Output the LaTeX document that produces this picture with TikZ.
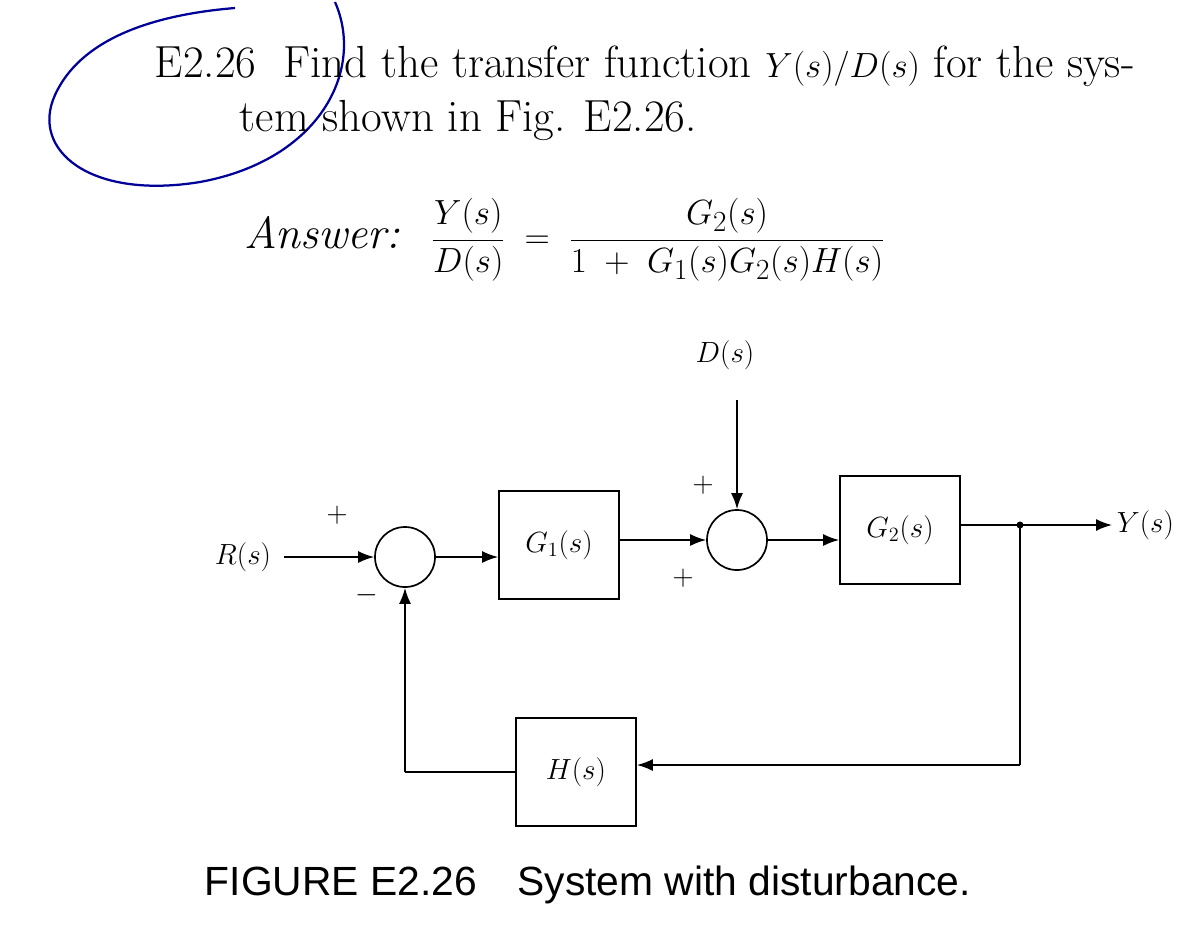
\documentclass[tikz,border=0pt]{standalone}
\usepackage{fontspec}
\setsansfont{Liberation Sans}
\usetikzlibrary{arrows.meta}
\begin{document}
\begin{tikzpicture}[x=0.025cm,y=-0.025cm,
  blk/.style={draw,line width=1.2pt,minimum width=3cm,minimum height=2.7cm,font=\fontsize{22}{26}\selectfont},
  sumc/.style={draw,circle,line width=1.2pt,minimum size=1.5cm,inner sep=0pt},
  sig/.style={line width=1.2pt,-{Latex[length=4mm,width=3mm]}},
  wire/.style={line width=1.2pt},
  lbl/.style={font=\fontsize{22}{26}\selectfont},
  big/.style={font=\fontsize{32}{38}\selectfont,anchor=west}]
\useasboundingbox (0,0) rectangle (1204,950);
\fill[white] (0,0) rectangle (1204,950);
% blue hand-drawn circle
\draw[blue!60!black,line width=1.6pt] (335,2) .. controls (365,70) and (320,160) .. (200,182) .. controls (90,200) and (30,150) .. (55,95) .. controls (80,40) and (150,15) .. (235,8);
\node[big] (t1) at (150,66) {E2.26 \ Find the transfer function $Y(s)/D(s)$ for the sys-};
\node[big] (t2) at (235,120) {tem shown in Fig. E2.26.};
\node[big] (ans) at (240,240) {\textit{Answer:} \ $\displaystyle \frac{Y(s)}{D(s)} \;=\; \frac{G_2(s)}{1\;+\;G_1(s)G_2(s)H(s)}$};
% diagram
\node[sumc] (s1) at (405,557) {};
\node[blk] (g1) at (559,545) {$G_1(s)$};
\node[sumc] (s2) at (737,540) {};
\node[blk] (g2) at (900,530) {$G_2(s)$};
\node[blk] (h) at (576,772) {$H(s)$};
\node[lbl] (r) at (243,557) {$R(s)$};
\node[lbl] (d) at (725,355) {$D(s)$};
\node[lbl,anchor=west] (y) at (1112,525) {$Y(s)$};
\coordinate (dtop) at (737,400);
\coordinate (br) at (1020,525);
\coordinate (bb) at (1020,765);
\coordinate (hl) at (405,772);
\draw[sig] (r.east) ++(8,0) -- (s1.west);
\draw[sig] (s1.east) -- (g1.west |- s1.east);
\draw[sig] (g1.east |- s2.west) -- (s2.west);
\draw[sig] (dtop) -- (s2.north);
\draw[sig] (s2.east) -- (g2.west |- s2.east);
\draw[sig] (g2.east |- br) -- (y.west);
\fill (br) circle (2.5pt);
\draw[wire] (br) -- (bb);
\draw[sig] (bb) -- (h.east |- bb);
\draw[wire] (h.west) -- (hl);
\draw[sig] (hl) -- (s1.south);
\node[lbl] (p1) at (337,515) {$+$};
\node[lbl] (m1) at (367,595) {$-$};
\node[lbl] (p2) at (703,485) {$+$};
\node[lbl] (p3) at (683,578) {$+$};
\node[font=\sffamily\fontsize{29}{34}\selectfont,anchor=west] (cap) at (200,885) {FIGURE E2.26\quad System with disturbance.};
\end{tikzpicture}
\end{document}
